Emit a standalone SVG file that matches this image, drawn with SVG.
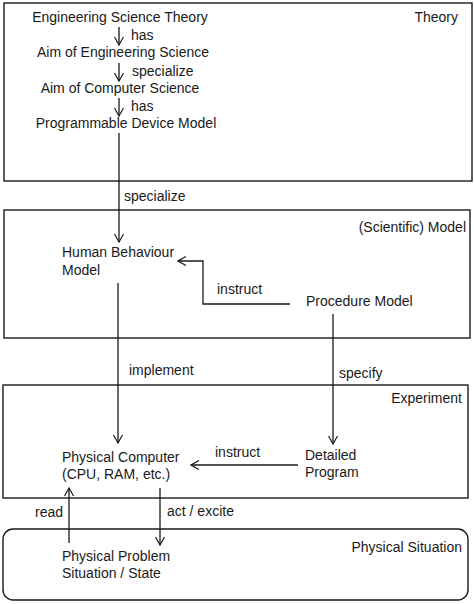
<svg xmlns="http://www.w3.org/2000/svg" width="474" height="604" viewBox="0 0 474 604">
<defs>
<style>
text{font-family:"Liberation Sans",Arial,sans-serif;font-size:14px;fill:#1a1a1a}
.r{text-anchor:end}
.m{text-anchor:middle}
.box{fill:none;stroke:#1a1a1a;stroke-width:1.4}
.ln{fill:none;stroke:#1a1a1a;stroke-width:1.3}
</style>
<marker id="ah" viewBox="0 0 10 10" refX="9" refY="5" markerWidth="10" markerHeight="10" markerUnits="userSpaceOnUse" orient="auto">
<path d="M1,0.5 L9,5 L1,9.5" fill="none" stroke="#1a1a1a" stroke-width="1.2"/>
</marker>
</defs>
<rect width="474" height="604" fill="#fff"/>
<g id="theory">
<rect class="box" x="4" y="3" width="468" height="178"/>
<text class="r" x="458" y="22">Theory</text>
</g>
<g id="model">
<rect class="box" x="4" y="210" width="466" height="128"/>
<text class="r" x="466" y="232">(Scientific) Model</text>
</g>
<g id="experiment">
<rect class="box" x="3" y="385" width="465" height="113"/>
<text class="r" x="462" y="403">Experiment</text>
</g>
<g id="physical-situation">
<rect class="box" x="3" y="529" width="465" height="71" rx="10" ry="10"/>
<text class="r" x="462" y="552">Physical Situation</text>
</g>
<g id="n-est"><text class="m" x="120" y="22">Engineering Science Theory</text></g>
<g id="n-aes"><text class="m" x="123" y="57">Aim of Engineering Science</text></g>
<g id="n-acs"><text class="m" x="120" y="93">Aim of Computer Science</text></g>
<g id="n-pdm"><text class="m" x="126" y="128">Programmable Device Model</text></g>
<g id="n-hbm"><text x="62" y="257">Human Behaviour</text><text x="62" y="275">Model</text></g>
<g id="n-pm"><text x="306" y="306">Procedure Model</text></g>
<g id="n-pc"><text x="62" y="462">Physical Computer</text><text x="62" y="479">(CPU, RAM, etc.)</text></g>
<g id="n-dp"><text x="305" y="460">Detailed</text><text x="305" y="477">Program</text></g>
<g id="n-pps"><text x="62" y="561">Physical Problem</text><text x="62" y="578">Situation / State</text></g>
<g id="connectors">
<path class="ln" d="M119,27 V45" marker-end="url(#ah)"/>
<text x="131" y="40">has</text>
<path class="ln" d="M119,63 V81" marker-end="url(#ah)"/>
<text x="132" y="76">specialize</text>
<path class="ln" d="M119,98 V116" marker-end="url(#ah)"/>
<text x="131" y="111">has</text>
<path class="ln" d="M119,133 V242" marker-end="url(#ah)"/>
<text x="124" y="201">specialize</text>
<path class="ln" d="M290,304 H203 V261 H178" marker-end="url(#ah)"/>
<text x="217" y="294">instruct</text>
<path class="ln" d="M118,283 V443" marker-end="url(#ah)"/>
<text x="129" y="375">implement</text>
<path class="ln" d="M333,314 V444" marker-end="url(#ah)"/>
<text x="339" y="378">specify</text>
<path class="ln" d="M298,465 H191" marker-end="url(#ah)"/>
<text x="215" y="457">instruct</text>
<path class="ln" d="M69,543 V488" marker-end="url(#ah)"/>
<text x="35" y="517">read</text>
<path class="ln" d="M160,488 V545" marker-end="url(#ah)"/>
<text x="167" y="516">act / excite</text>
</g>
</svg>
